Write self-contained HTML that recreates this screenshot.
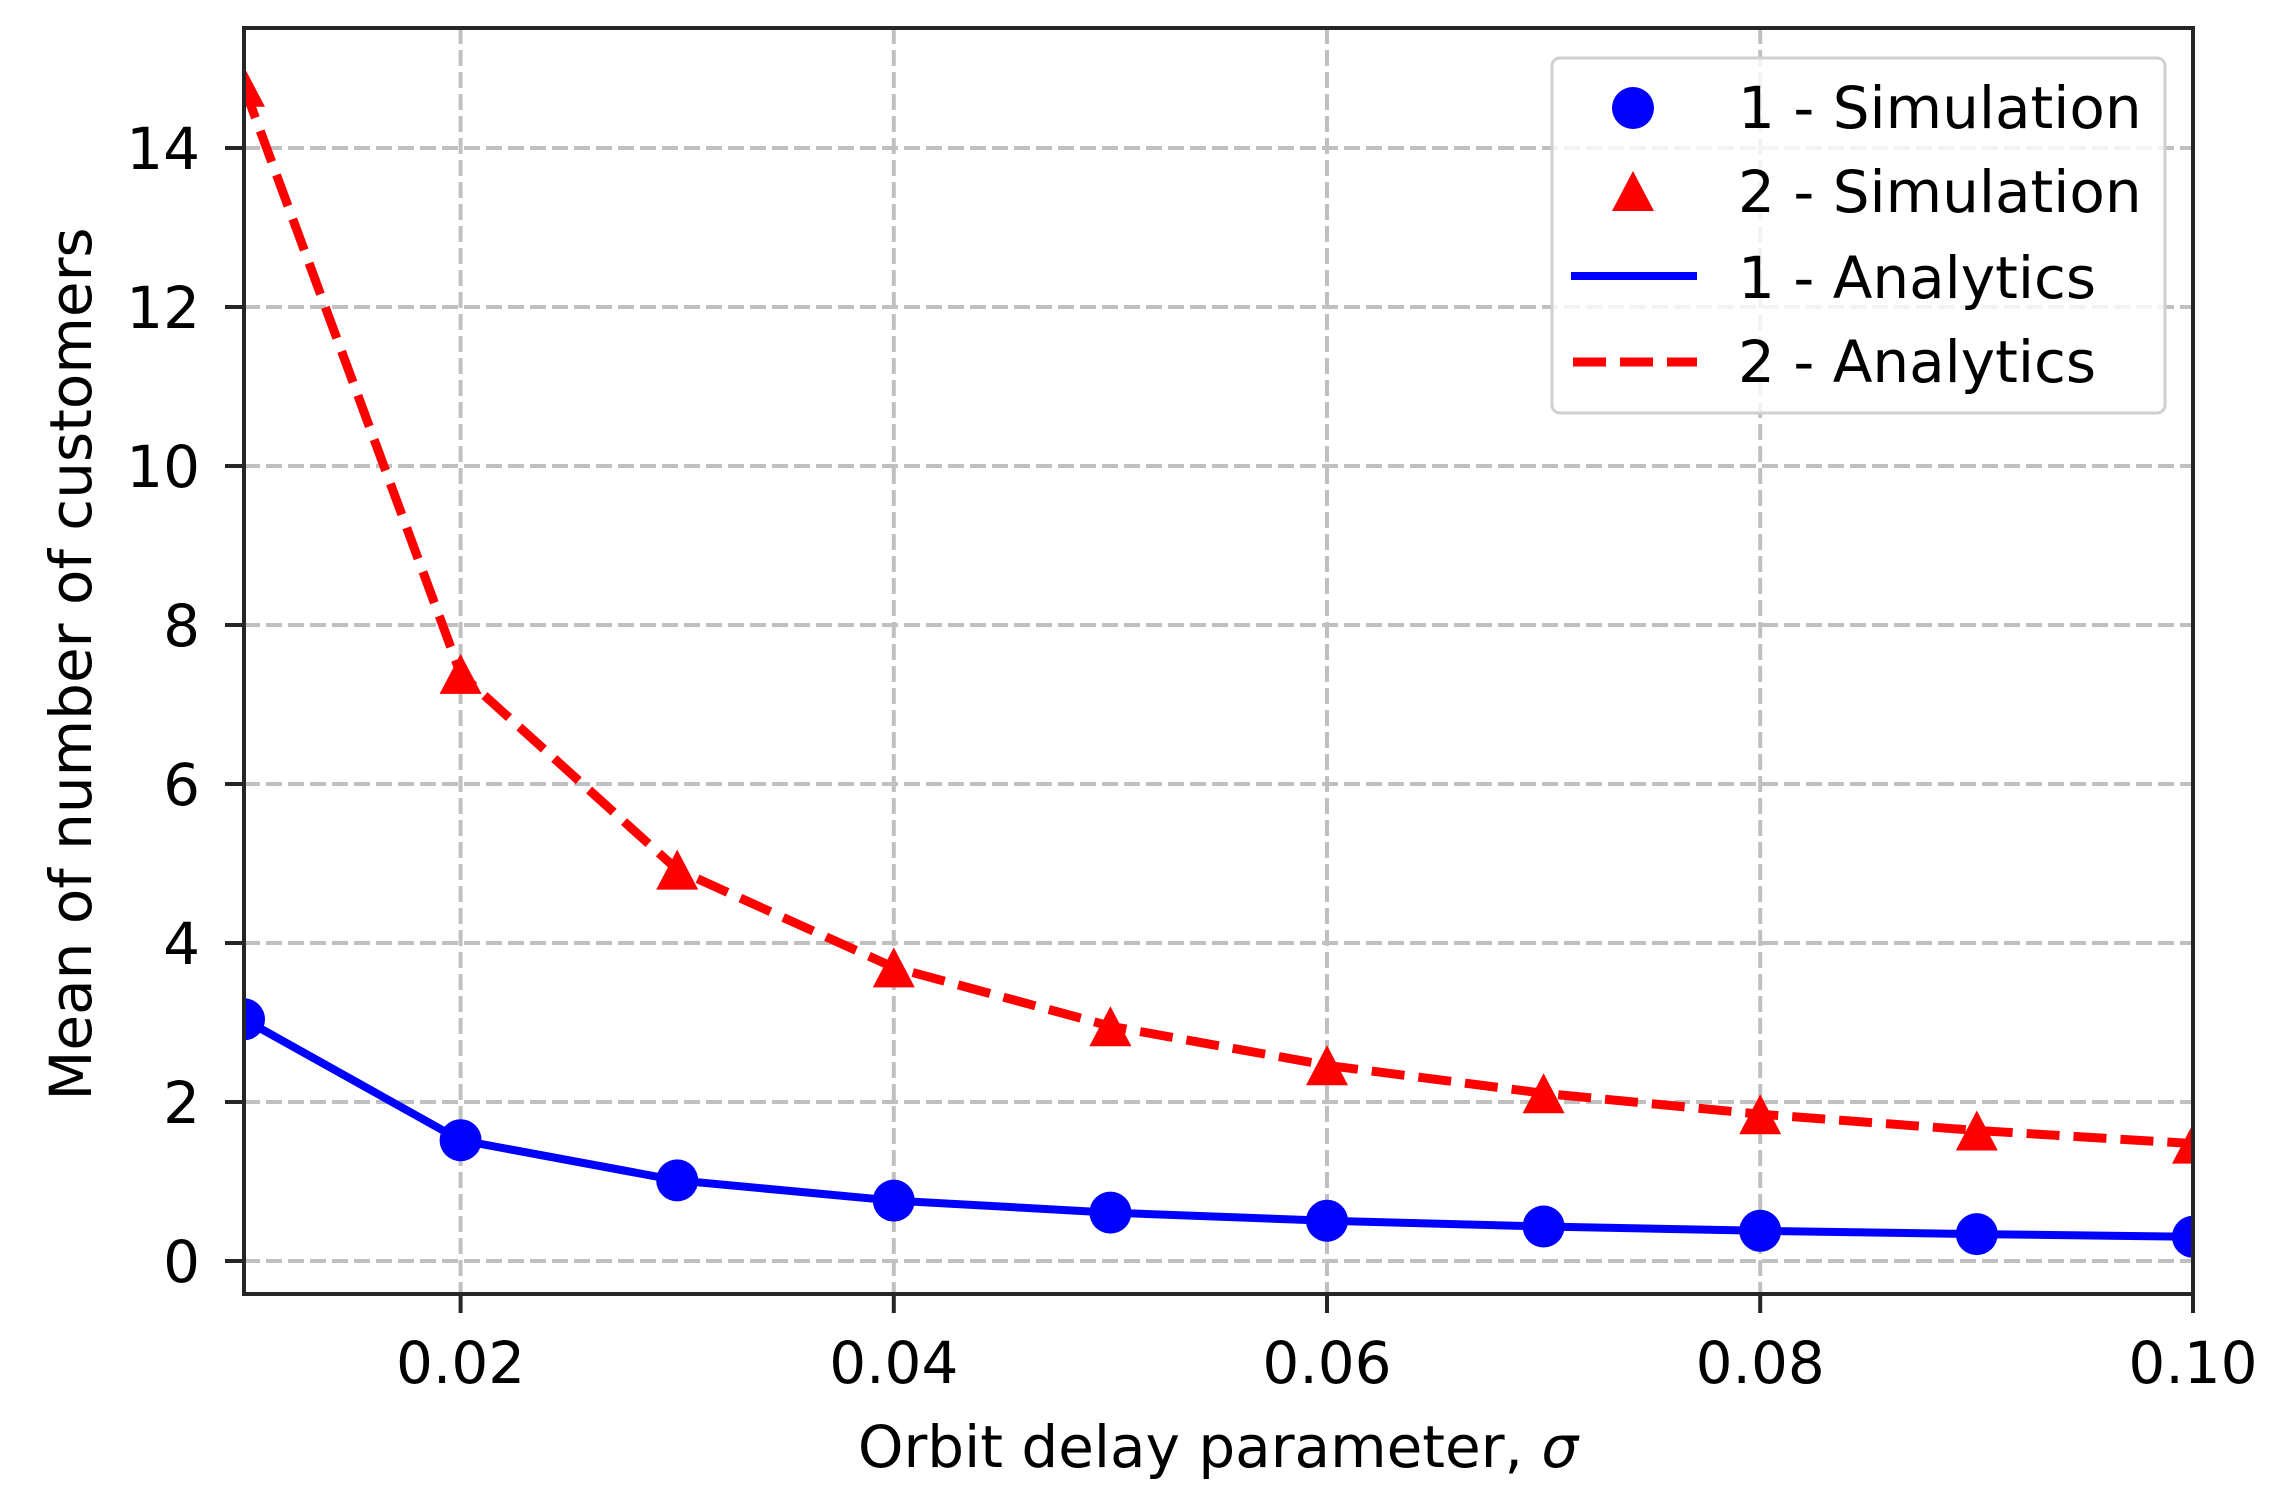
<!DOCTYPE html>
<html><head><meta charset="utf-8"><style>
html,body{margin:0;padding:0;background:#fff;}
svg{display:block;}
text{font-family:"DejaVu Sans","Liberation Sans",sans-serif;fill:#000;}
</style></head><body>
<svg width="2273" height="1497" viewBox="0 0 2273 1497" xmlns="http://www.w3.org/2000/svg">
<defs><clipPath id="c"><rect x="244" y="28" width="1949" height="1266"/></clipPath></defs>
<rect width="2273" height="1497" fill="#fff"/>
<g stroke="#c0c0c0" stroke-width="4" stroke-dasharray="16,6">
<line x1="460.6" y1="28" x2="460.6" y2="1294"/><line x1="893.8" y1="28" x2="893.8" y2="1294"/>
<line x1="1327" y1="28" x2="1327" y2="1294"/><line x1="1760.2" y1="28" x2="1760.2" y2="1294"/>
<line x1="244" y1="1261" x2="2193" y2="1261"/><line x1="244" y1="1102" x2="2193" y2="1102"/>
<line x1="244" y1="943" x2="2193" y2="943"/><line x1="244" y1="784" x2="2193" y2="784"/>
<line x1="244" y1="625" x2="2193" y2="625"/><line x1="244" y1="466" x2="2193" y2="466"/>
<line x1="244" y1="307" x2="2193" y2="307"/><line x1="244" y1="148" x2="2193" y2="148"/>
</g>
<g clip-path="url(#c)">
<polyline fill="none" stroke="#00f" stroke-width="8" stroke-linejoin="round" points="244,1019.3 460.6,1140.2 677.2,1180.4 893.8,1200.6 1110.4,1212.6 1327,1220.7 1543.6,1226.5 1760.2,1230.8 1976.8,1234.1 2193,1236.8"/>
<polyline fill="none" stroke="#f00" stroke-width="9" stroke-dasharray="33,14" points="244,86.8 460.6,673.9 677.2,869.6 893.8,967.4 1110.4,1026.2 1327,1065.3 1543.6,1093.3 1760.2,1114.2 1976.8,1130.5 2193,1143.6"/>
<g fill="#00f">
<circle cx="244" cy="1019.3" r="21"/><circle cx="460.6" cy="1140.2" r="21"/><circle cx="677.2" cy="1180.4" r="21"/><circle cx="893.8" cy="1200.6" r="21"/><circle cx="1110.4" cy="1212.6" r="21"/><circle cx="1327" cy="1220.7" r="21"/><circle cx="1543.6" cy="1226.5" r="21"/><circle cx="1760.2" cy="1230.8" r="21"/><circle cx="1976.8" cy="1234.1" r="21"/><circle cx="2193" cy="1236.8" r="21"/>
</g>
<g fill="#f00">
<path d="M244,66.8l21,40h-42z"/><path d="M460.6,653.9l21,40h-42z"/><path d="M677.2,849.6l21,40h-42z"/><path d="M893.8,947.4l21,40h-42z"/><path d="M1110.4,1006.2l21,40h-42z"/><path d="M1327,1045.3l21,40h-42z"/><path d="M1543.6,1073.3l21,40h-42z"/><path d="M1760.2,1094.2l21,40h-42z"/><path d="M1976.8,1110.5l21,40h-42z"/><path d="M2193,1123.6l21,40h-42z"/>
</g>
</g>
<rect x="244" y="28" width="1949" height="1266" fill="none" stroke="#262626" stroke-width="4"/>
<g stroke="#262626" stroke-width="4">
<line x1="460.6" y1="1294" x2="460.6" y2="1313"/><line x1="893.8" y1="1294" x2="893.8" y2="1313"/><line x1="1327" y1="1294" x2="1327" y2="1313"/><line x1="1760.2" y1="1294" x2="1760.2" y2="1313"/><line x1="2193" y1="1294" x2="2193" y2="1313"/>
<line x1="225" y1="1261" x2="244" y2="1261"/><line x1="225" y1="1102" x2="244" y2="1102"/><line x1="225" y1="943" x2="244" y2="943"/><line x1="225" y1="784" x2="244" y2="784"/><line x1="225" y1="625" x2="244" y2="625"/><line x1="225" y1="466" x2="244" y2="466"/><line x1="225" y1="307" x2="244" y2="307"/><line x1="225" y1="148" x2="244" y2="148"/>
</g>
<g font-size="58" text-anchor="end">
<text x="200" y="1282">0</text><text x="200" y="1123">2</text><text x="200" y="964">4</text><text x="200" y="805">6</text><text x="200" y="646">8</text><text x="200" y="487">10</text><text x="200" y="328">12</text><text x="200" y="169">14</text>
</g>
<g font-size="58" text-anchor="middle">
<text x="460.6" y="1383">0.02</text><text x="893.8" y="1383">0.04</text><text x="1327" y="1383">0.06</text><text x="1760.2" y="1383">0.08</text><text x="2193" y="1383">0.10</text>
<text x="1218" y="1467">Orbit delay parameter, <tspan font-style="italic">σ</tspan></text>
<text transform="translate(91,664) rotate(-90)">Mean of number of customers</text>
</g>
<rect x="1552" y="58" width="613" height="355" rx="8" fill="#fff" fill-opacity="0.8" stroke="#d0d0d0" stroke-width="3"/>
<circle cx="1633" cy="108" r="21" fill="#00f"/>
<path d="M1633,171l21,40h-42z" fill="#f00"/>
<line x1="1571" y1="276" x2="1697" y2="276" stroke="#00f" stroke-width="8"/>
<line x1="1573" y1="362" x2="1697" y2="362" stroke="#f00" stroke-width="9" stroke-dasharray="33,14"/>
<g font-size="58">
<text x="1738" y="128">1 - Simulation</text><text x="1738" y="212">2 - Simulation</text><text x="1738" y="298">1 - Analytics</text><text x="1738" y="382">2 - Analytics</text>
</g>
</svg>
</body></html>
